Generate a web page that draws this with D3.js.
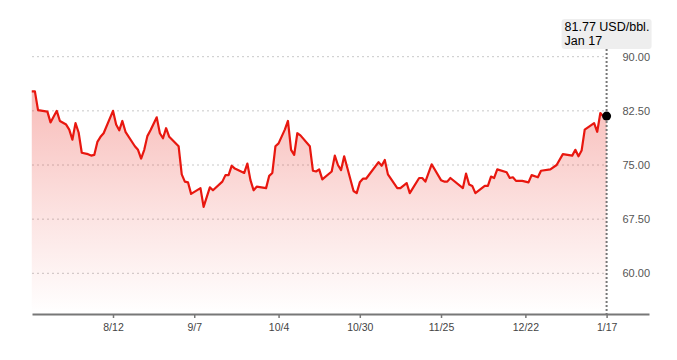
<!DOCTYPE html>
<html>
<head>
<meta charset="utf-8">
<script src="https://cdn.jsdelivr.net/npm/d3@7"></script>
<style>
  html, body { margin: 0; padding: 0; background: #fff; }
  svg { display: block; font-family: "Liberation Sans", Arial, sans-serif; }
</style>
</head>
<body>
<svg id="chart" width="677" height="360"></svg>
<script>
// ---- data ----
const dates = [
  "2024-07-17","2024-07-18","2024-07-19","2024-07-22","2024-07-23","2024-07-25","2024-07-26","2024-07-28",
  "2024-07-29","2024-07-30","2024-07-31","2024-08-01","2024-08-02","2024-08-04","2024-08-05","2024-08-06",
  "2024-08-07","2024-08-08","2024-08-09","2024-08-12","2024-08-13","2024-08-14","2024-08-15","2024-08-16",
  "2024-08-19","2024-08-20","2024-08-21","2024-08-22","2024-08-23","2024-08-24","2024-08-26","2024-08-27",
  "2024-08-28","2024-08-29","2024-08-30","2024-09-02","2024-09-03","2024-09-04","2024-09-05","2024-09-06",
  "2024-09-09","2024-09-10","2024-09-12","2024-09-13","2024-09-16","2024-09-17","2024-09-18","2024-09-19",
  "2024-09-20","2024-09-23","2024-09-24","2024-09-25","2024-09-26","2024-09-27","2024-09-30","2024-10-01",
  "2024-10-02","2024-10-03","2024-10-04","2024-10-06","2024-10-07","2024-10-08","2024-10-09","2024-10-10",
  "2024-10-11","2024-10-14","2024-10-15","2024-10-16","2024-10-17","2024-10-18","2024-10-21","2024-10-22",
  "2024-10-23","2024-10-24","2024-10-25","2024-10-28","2024-10-29","2024-10-30","2024-10-31","2024-11-01",
  "2024-11-05","2024-11-06","2024-11-07","2024-11-08","2024-11-11","2024-11-12","2024-11-14","2024-11-15",
  "2024-11-18","2024-11-19","2024-11-20","2024-11-22","2024-11-25","2024-11-26","2024-11-27","2024-11-28",
  "2024-12-02","2024-12-03","2024-12-04","2024-12-05","2024-12-06","2024-12-09","2024-12-10","2024-12-11",
  "2024-12-12","2024-12-13","2024-12-16","2024-12-17","2024-12-18","2024-12-19","2024-12-21","2024-12-23",
  "2024-12-24","2024-12-26","2024-12-27","2024-12-30","2025-01-01","2025-01-03","2025-01-06","2025-01-07",
  "2025-01-08","2025-01-09","2025-01-10","2025-01-13","2025-01-14","2025-01-15","2025-01-16","2025-01-17"
];
const prices = [
  85.2, 85.2, 82.6, 82.4, 80.9, 82.5, 81.1, 80.6,
  79.9, 78.5, 80.8, 79.5, 76.7, 76.5, 76.3, 76.4,
  78.2, 78.9, 79.4, 82.5, 80.6, 79.8, 81.1, 79.6,
  77.6, 77.1, 75.9, 77.1, 79.0, 79.8, 81.6, 79.4,
  78.7, 80.1, 78.9, 77.6, 73.7, 72.7, 72.6, 71.0,
  71.8, 69.2, 71.9, 71.5, 72.7, 73.6, 73.6, 74.9,
  74.5, 73.9, 75.2, 72.9, 71.5, 72.0, 71.8, 73.5,
  73.9, 77.6, 78.0, 79.9, 81.1, 77.1, 76.4, 79.4,
  79.1, 77.6, 74.2, 74.1, 74.4, 73.0, 74.1, 76.3,
  75.0, 74.3, 76.2, 71.4, 71.1, 72.6, 73.1, 73.1,
  75.4, 74.9, 75.7, 73.7, 71.8, 71.8, 72.5, 71.1,
  73.2, 73.2, 72.7, 75.1, 72.9, 72.7, 72.7, 73.2,
  71.8, 73.8, 72.3, 72.1, 71.1, 72.1, 72.1, 73.4,
  73.2, 74.4, 74.0, 73.2, 73.3, 72.8, 72.8, 72.6,
  73.6, 73.3, 74.2, 74.4, 75.0, 76.5, 76.3, 77.1,
  76.2, 77.0, 79.9, 80.8, 79.6, 82.2, 81.7, 81.77
];
const yTicks = [60, 67.5, 75, 82.5, 90];
const xTickDates = ["2024-08-12","2024-09-07","2024-10-04","2024-10-30","2024-11-25","2024-12-22","2025-01-17"];
const xTickLabels = ["8/12","9/7","10/4","10/30","11/25","12/22","1/17"];
const unitLabel = "USD/bbl.";
const lastLabel = "Jan 17";

// ---- layout ----
const parse = d3.timeParse("%Y-%m-%d");
const data = dates.map((d, i) => ({ date: parse(d), value: prices[i] }));
const axisY = 314, plotLeft = 32, plotRight = 649;

const svg = d3.select("#chart");

// x scale: calibrated on tick dates, then extended to the full plot width
const xCal = d3.scaleTime()
  .domain([parse(xTickDates[0]), parse(xTickDates[xTickDates.length - 1])])
  .range([113, 606.6]);
const x = d3.scaleTime()
  .domain([xCal.invert(plotLeft), xCal.invert(plotRight)])
  .range([plotLeft, plotRight]);

const y = d3.scaleLinear().domain([60, 90]).range([273.3, 56.7]);

const last = data[data.length - 1];
const lastX = x(last.date);

// gradient
const defs = svg.append("defs");
const grad = defs.append("linearGradient")
  .attr("id", "areaGrad")
  .attr("gradientUnits", "userSpaceOnUse")
  .attr("x1", 0).attr("x2", 0)
  .attr("y1", y(86)).attr("y2", axisY);
grad.append("stop").attr("offset", "0%").attr("stop-color", "#e8281e").attr("stop-opacity", 0.32);
grad.append("stop").attr("offset", "60%").attr("stop-color", "#e8281e").attr("stop-opacity", 0.12);
grad.append("stop").attr("offset", "100%").attr("stop-color", "#e8281e").attr("stop-opacity", 0.0);

// gridlines
svg.append("g").selectAll("line").data(yTicks).join("line")
  .attr("x1", plotLeft).attr("x2", lastX)
  .attr("y1", d => y(d)).attr("y2", d => y(d))
  .attr("stroke", "#c8c8c8").attr("stroke-width", 1)
  .attr("stroke-dasharray", "2,3");

// y labels
svg.append("g").selectAll("text").data(yTicks).join("text")
  .attr("x", 650).attr("y", d => y(d))
  .attr("text-anchor", "end").attr("dominant-baseline", "central")
  .attr("font-size", 11).attr("fill", "#555")
  .text(d => d3.format(".2f")(d));

// area
const area = d3.area().x(d => x(d.date)).y0(axisY).y1(d => y(d.value));
svg.append("path").datum(data).attr("d", area).attr("fill", "url(#areaGrad)");

// line
const line = d3.line().x(d => x(d.date)).y(d => y(d.value));
svg.append("path").datum(data).attr("d", line)
  .attr("fill", "none").attr("stroke", "#e8170f").attr("stroke-width", 2.2)
  .attr("stroke-linejoin", "round");

// x axis
const xAxis = d3.axisBottom(x)
  .tickValues(xTickDates.map(parse))
  .tickFormat((d, i) => xTickLabels[i])
  .tickSizeInner(4).tickSizeOuter(0).tickPadding(6);
const gx = svg.append("g").attr("transform", `translate(0,${axisY})`).call(xAxis);
gx.select(".domain").attr("stroke", "#777").attr("stroke-width", 2);
gx.selectAll(".tick line").attr("stroke", "#777").attr("stroke-width", 1.5);
gx.selectAll(".tick text").attr("font-size", 10.5).attr("fill", "#444")
  .attr("font-family", "'Liberation Sans', Arial, sans-serif");

// tooltip cursor line
const boxW = 90, boxTop = 19, boxH = 30;
svg.append("line")
  .attr("x1", lastX).attr("x2", lastX)
  .attr("y1", boxTop + boxH).attr("y2", axisY)
  .attr("stroke", "#777").attr("stroke-width", 2).attr("stroke-dasharray", "2,2");

// end dot
svg.append("circle").attr("cx", lastX).attr("cy", y(last.value)).attr("r", 4.5).attr("fill", "#000");

// tooltip box
svg.append("rect")
  .attr("x", lastX - boxW / 2).attr("y", boxTop).attr("width", boxW).attr("height", boxH)
  .attr("rx", 3).attr("fill", "#eeeeee");
svg.append("text")
  .attr("x", lastX - boxW / 2 + 3).attr("y", boxTop + 12)
  .attr("font-size", 12.5).attr("fill", "#000")
  .text(`${d3.format(".2f")(last.value)} ${unitLabel}`);
svg.append("text")
  .attr("x", lastX - boxW / 2 + 3).attr("y", boxTop + 26)
  .attr("font-size", 12.5).attr("fill", "#000")
  .text(lastLabel);
</script>
</body>
</html>
